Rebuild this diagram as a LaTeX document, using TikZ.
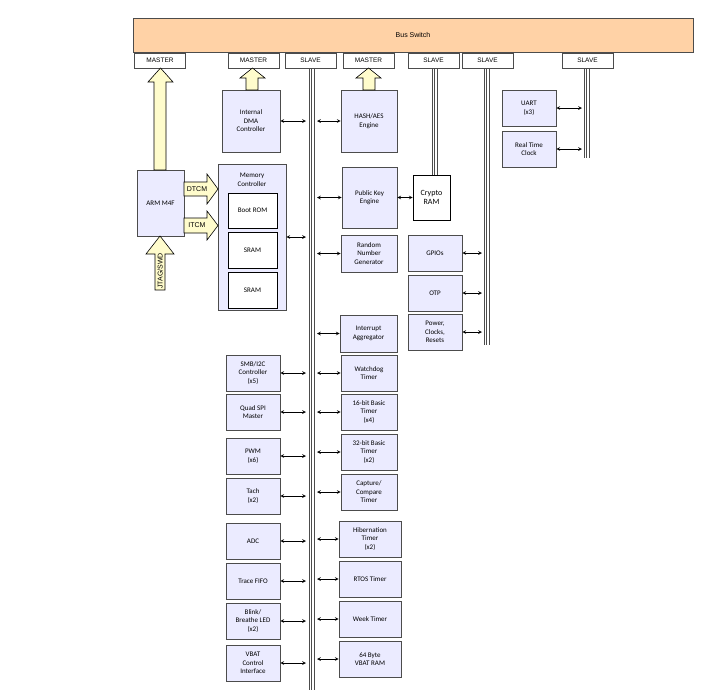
\documentclass[tikz,border=0pt]{standalone}
\usepackage{fontspec}
\setmainfont{Carlito}
\newfontfamily\arl{Liberation Sans}
\begin{document}
\begin{tikzpicture}[x=1pt,y=-1pt,
 blk/.style={draw=black!70,fill=blue!8!white,line width=0.6pt,align=center,font=\fontsize{7}{8.5}\selectfont,inner sep=0pt},
 wblk/.style={blk,fill=white,draw=black},
 lab/.style={draw=black!70,fill=white,line width=0.6pt,font=\arl\fontsize{6.5}{7}\selectfont,minimum width=51pt,minimum height=15pt,inner sep=0pt},
 dar/.style={<->,>=stealth,line width=0.7pt},
 yar/.style={draw=black,fill=yellow!20,line width=0.6pt,line join=miter},
 bl/.style={draw=black!70,line width=0.8pt}]
\useasboundingbox (0,0) rectangle (720,694);
% bus switch
\node[draw=black!70,fill=orange!35!white,minimum width=560pt,minimum height=34pt,font=\arl\fontsize{7}{8}\selectfont,inner sep=0pt] (bus) at (413,35) {Bus Switch};
\node[lab] (mA) at (160,60.5) {MASTER};
\node[lab] (mB) at (253.5,60.5) {MASTER};
\node[lab] (sA) at (310.5,60.5) {SLAVE};
\node[lab] (mC) at (368.5,60.5) {MASTER};
\node[lab] (sB) at (433.5,60.5) {SLAVE};
\node[lab] (sC) at (487.5,60.5) {SLAVE};
\node[lab] (sD) at (587.5,60.5) {SLAVE};
% bus lines
\foreach \x in {309,311.5,314} \draw[bl] (\x,68) -- (\x,690);
\foreach \x in {432,434.5,437} \draw[bl] (\x,68) -- (\x,175);
\foreach \x in {484,486.5,489} \draw[bl] (\x,68) -- (\x,345);
\foreach \x in {584,586.5,589} \draw[bl] (\x,68) -- (\x,158);
\coordinate (bL) at (306,0);
\coordinate (bR) at (317,0);
\coordinate (cL) at (482,0);
\coordinate (dL) at (582,0);
% boxes
\node[blk,minimum width=58pt,minimum height=62pt] (dma) at (251,121) {Internal\\DMA\\Controller};
\node[blk,minimum width=56pt,minimum height=62pt] (hash) at (369,121) {HASH/AES\\Engine};
\node[blk,minimum width=47pt,minimum height=66pt] (arm) at (160.5,203) {ARM M4F};
\node[blk,minimum width=68pt,minimum height=146pt] (mem) at (252,237) {};
\node[font=\fontsize{7}{8.5}\selectfont,align=center,inner sep=0pt] (memt) at (252,180) {Memory\\Controller};
\node[wblk,minimum width=49pt,minimum height=35pt] (boot) at (252.5,210.5) {Boot ROM};
\node[wblk,minimum width=49pt,minimum height=36pt] (sr1) at (252.5,250) {SRAM};
\node[wblk,minimum width=49pt,minimum height=36pt] (sr2) at (252.5,290) {SRAM};
\node[blk,minimum width=55pt,minimum height=61pt] (pk) at (369.5,197.5) {Public Key\\Engine};
\node[wblk,minimum width=37pt,minimum height=45pt,font=\fontsize{8}{9.5}\selectfont] (cram) at (431.5,197.5) {Crypto\\RAM};
\node[blk,minimum width=56pt,minimum height=37pt] (rng) at (369,253.5) {Random\\Number\\Generator};
\node[blk,minimum width=54pt,minimum height=36pt] (gpio) at (435,253) {GPIOs};
\node[blk,minimum width=54pt,minimum height=36pt] (otp) at (435,293) {OTP};
\node[blk,minimum width=54pt,minimum height=36pt] (pwr) at (435,332) {Power,\\Clocks,\\Resets};
\node[blk,minimum width=54pt,minimum height=36pt] (uart) at (529,108) {UART\\(x3)};
\node[blk,minimum width=54pt,minimum height=36pt] (rtc) at (529,149) {Real Time\\Clock};
\node[blk,minimum width=57pt,minimum height=37pt] (ia) at (368.5,333.5) {Interrupt\\Aggregator};
% left column
\foreach \n/\y/\t in {smb/373/{SMB/I2C\\Controller\\(x5)},qspi/412/{Quad SPI\\Master},pwm/456/{PWM\\(x6)},tach/496/{Tach\\(x2)},adc/541/ADC,trace/581/Trace FIFO,blink/621/{Blink/\\Breathe LED\\(x2)},vbat/663/{VBAT\\Control\\Interface}}{
 \node[blk,minimum width=54pt,minimum height=36pt] (\n) at (253,\y) {\t};
 \draw[dar] (\n.east) -- (\n.east -| bL);}
% right column
\foreach \n/\y/\t in {wd/373/{Watchdog\\Timer},t16/412/{16-bit Basic\\Timer\\(x4)},t32/452/{32-bit Basic\\Timer\\(x2)},cap/492/{Capture/\\Compare\\Timer}}{
 \node[blk,minimum width=56pt,minimum height=36pt] (\n) at (369,\y) {\t};
 \draw[dar] (\n.west) -- (\n.west -| bR);}
\foreach \n/\y/\t in {hib/539/{Hibernation\\Timer\\(x2)},rtos/579/RTOS Timer,week/619/Week Timer,vram/659/{64 Byte\\VBAT RAM}}{
 \node[blk,minimum width=62pt,minimum height=36pt] (\n) at (370,\y) {\t};
 \draw[dar] (\n.west) -- (\n.west -| bR);}
% double arrows
\draw[dar] (dma.east) -- (dma.east -| bL);
\draw[dar] (hash.west) -- (hash.west -| bR);
\draw[dar] (mem.east) -- (mem.east -| bL);
\draw[dar] (pk.west) -- (pk.west -| bR);
\draw[dar] (rng.west) -- (rng.west -| bR);
\draw[dar] (ia.west) -- (ia.west -| bR);
\draw[dar] (pk.east) -- (cram.west);
\draw[dar] (gpio.east) -- (gpio.east -| cL);
\draw[dar] (otp.east) -- (otp.east -| cL);
\draw[dar] (pwr.east) -- (pwr.east -| cL);
\draw[dar] (uart.east) -- (uart.east -| dL);
\draw[dar] (rtc.east) -- (rtc.east -| dL);
% yellow block arrows
\draw[yar] (154,170) -- (154,82) -- (148,82) -- (160.5,68) -- (173,82) -- (166,82) -- (166,170) -- cycle;
\draw[yar] (246,90) -- (246,78) -- (240,78) -- (252.5,68) -- (265,78) -- (258,78) -- (258,90) -- cycle;
\draw[yar] (363,90) -- (363,78) -- (356,78) -- (368.5,68) -- (381,78) -- (375,78) -- (375,90) -- cycle;
\draw[yar] (155,290) -- (155,254) -- (146,254) -- (160,236) -- (174,254) -- (165,254) -- (165,290) -- cycle;
\node[rotate=90,font=\arl\fontsize{7}{8}\selectfont,inner sep=0pt] (jt) at (160,271) {JTAG/SWD};
\draw[yar] (184,182) -- (207,182) -- (207,174) -- (218,189) -- (207,204) -- (207,196) -- (184,196) -- cycle;
\node[font=\arl\fontsize{7}{8}\selectfont,inner sep=0pt] (dt) at (197,189) {DTCM};
\draw[yar] (184,218) -- (207,218) -- (207,211) -- (218,225.5) -- (207,240) -- (207,233) -- (184,233) -- cycle;
\node[font=\arl\fontsize{7}{8}\selectfont,inner sep=0pt] (it) at (197,225.5) {ITCM};
\end{tikzpicture}
\end{document}
